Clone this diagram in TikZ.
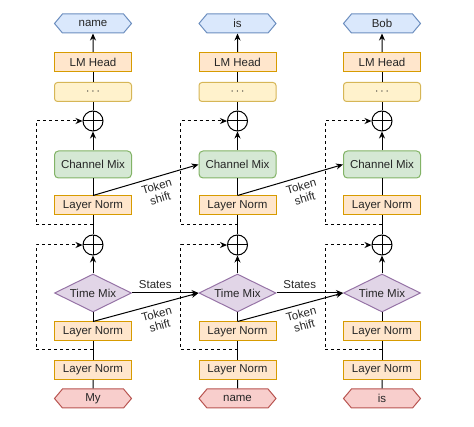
\documentclass[tikz,border=0pt]{standalone}
\usepackage{fontspec}
\setmainfont{Liberation Sans}
\usetikzlibrary{shapes.geometric,shapes.symbols,arrows.meta}

\definecolor{tokfill}{HTML}{DAE8FC}
\definecolor{tokdraw}{HTML}{6C8EBF}
\definecolor{infill}{HTML}{F8CECC}
\definecolor{indraw}{HTML}{B85450}
\definecolor{normfill}{HTML}{FFE6CC}
\definecolor{normdraw}{HTML}{D79B00}
\definecolor{dotfill}{HTML}{FFF2CC}
\definecolor{dotdraw}{HTML}{D6B656}
\definecolor{cmixfill}{HTML}{D5E8D4}
\definecolor{cmixdraw}{HTML}{82B366}
\definecolor{tmixfill}{HTML}{E1D5E7}
\definecolor{tmixdraw}{HTML}{9673A6}

\tikzset{
  hexa/.style={signal, signal to=west and east, signal pointer angle=100,
    minimum width=77pt, minimum height=19pt, inner sep=0pt},
  outtok/.style={hexa, draw=tokdraw, fill=tokfill},
  intok/.style={hexa, draw=indraw, fill=infill},
  normbox/.style={draw=normdraw, fill=normfill, minimum width=77pt, minimum height=19pt, inner sep=0pt},
  dotbox/.style={draw=dotdraw, fill=dotfill, rounded corners=3pt, minimum width=77pt, minimum height=19pt, inner sep=0pt},
  cmixbox/.style={draw=cmixdraw, fill=cmixfill, rounded corners=4pt, minimum width=77pt, minimum height=27pt, inner sep=0pt},
  tmixbox/.style={diamond, aspect=2, draw=tmixdraw, fill=tmixfill, minimum width=77pt, minimum height=38pt, inner sep=0pt},
  addnode/.style={circle, draw, minimum size=20pt, inner sep=0pt,
    path picture={\draw (path picture bounding box.north) -- (path picture bounding box.south)
      (path picture bounding box.west) -- (path picture bounding box.east);}},
  skip/.style={dash pattern=on 3pt off 3pt, -{Stealth[length=7pt,width=6pt]}},
  arr/.style={-{Stealth[length=7pt,width=6pt]}}
}

\begin{document}
\begin{tikzpicture}[x=1pt, y=-1pt, line width=1pt, font=\fontsize{11.5}{13}\selectfont, text=black!85]
  \useasboundingbox (0,0) rectangle (474,427);
  % one column per token
  \foreach \i/\x/\intext/\outtext in {1/93/My/name, 2/237.5/name/is, 3/382/is/Bob} {
    \node[outtok] (out\i) at (\x,23.5) {\outtext};
    \node[normbox] (head\i) at (\x,62) {LM Head};
    \node[dotbox] (dots\i) at (\x,92) {$\cdots$};
    \node[addnode] (addB\i) at (\x,121) {};
    \node[cmixbox] (cmix\i) at (\x,164.5) {Channel Mix};
    \node[normbox] (lnB\i) at (\x,205.5) {Layer Norm};
    \node[addnode] (addA\i) at (\x,245) {};
    \node[tmixbox] (tmix\i) at (\x,293) {Time Mix};
    \node[normbox] (lnA\i) at (\x,331.5) {Layer Norm};
    \node[normbox] (ln\i) at (\x,370) {Layer Norm};
    \node[intok] (in\i) at (\x,398.5) {\intext};
    \coordinate (skA\i) at (\x,350);
    \coordinate (skB\i) at (\x,225);

    \draw (in\i) -- (ln\i);
    \draw (ln\i) -- (lnA\i);
    \draw (lnA\i) -- (tmix\i);
    \draw[arr] (tmix\i) -- (addA\i);
    \draw (addA\i) -- (lnB\i);
    \draw (lnB\i) -- (cmix\i);
    \draw[arr] (cmix\i) -- (addB\i);
    \draw (addB\i) -- (dots\i);
    \draw (dots\i) -- (head\i);
    \draw[arr] (head\i) -- (out\i);

    % residual connections
    \draw[skip] (skA\i) -- ++(-57,0) |- (addA\i.west);
    \draw[skip] (skB\i) -- ++(-57,0) |- (addB\i.west);
  }
  % links to the next token
  \foreach \i/\j in {1/2, 2/3} {
    \draw[arr] (tmix\i.east) -- (tmix\j.west) node[pos=0.35, above=1pt] {States};
    \draw[arr] (lnA\i.north) -- (tmix\j.west)
      node[pos=0.58, below=1pt, sloped, align=center, font=\fontsize{11.5}{12.5}\selectfont] {Token\\shift};
    \draw[arr] (lnB\i.north) -- (cmix\j.west)
      node[pos=0.58, below=1pt, sloped, align=center, font=\fontsize{11.5}{12.5}\selectfont] {Token\\shift};
  }
\end{tikzpicture}
\end{document}
